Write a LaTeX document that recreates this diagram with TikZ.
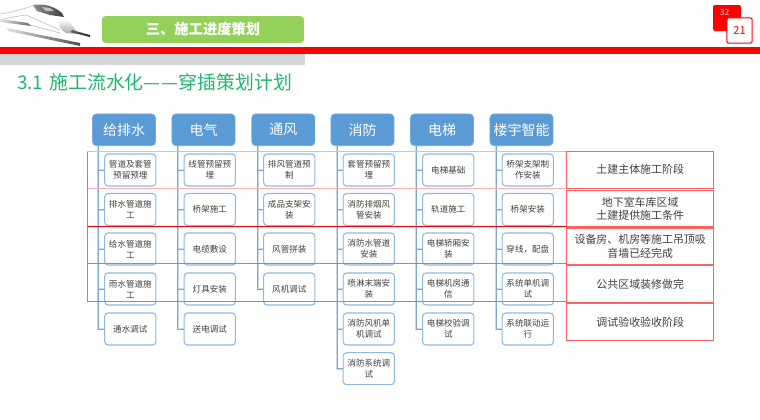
\documentclass[tikz,border=0pt]{standalone}
\usepackage{fontspec}
\setmainfont{Noto Sans CJK SC}
\usetikzlibrary{calc}
\definecolor{hdr}{HTML}{5B9BD5}
\definecolor{spine}{HTML}{7FA8D0}
\definecolor{spinepale}{HTML}{C5D8EC}
\definecolor{cborder}{HTML}{8DB9E4}
\definecolor{txt}{HTML}{404040}
\definecolor{titleg}{HTML}{1FB86E}
\definecolor{barg}{HTML}{94D15A}
\definecolor{pbred}{HTML}{FF0000}
\definecolor{bandpale}{HTML}{FFB0B0}
\definecolor{bandmid}{HTML}{FF6060}
\definecolor{bandstrong}{HTML}{F00000}
\tikzset{
 x=0.75pt,y=-0.75pt,
 hdrbox/.style={draw=hdr!85!white,line width=0.5pt,fill=hdr,rounded corners=3pt,minimum width=47.3pt,minimum height=23.8pt,inner sep=0pt,text=white,font=\fontsize{10.5pt}{12pt}\selectfont},
 childbox/.style={draw=cborder,line width=0.8pt,fill=white,rounded corners=2.5pt,minimum width=38.4pt,minimum height=24pt,inner sep=0pt,align=center,text=txt,font=\fontsize{6.4pt}{8.2pt}\selectfont},
 stagebox/.style={draw=#1,line width=0.8pt,fill=white,minimum width=110.2pt,minimum height=27.6pt,inner sep=0pt,align=center,text=txt,font=\fontsize{8.2pt}{10.2pt}\selectfont},
 spineline/.style={draw=spinepale,line width=1.5pt},
 spinethin/.style={draw=spine,line width=0.55pt},
}
\newcommand{\col}[3]{% name, header centre x, header text
 \node[hdrbox] (#1) at (#2,129.8) {#3};}
\newcommand{\kid}[3]{% name, position, text
 \node[childbox] (#1) at (#2) {#3};}
\begin{document}
\begin{tikzpicture}
\useasboundingbox (0,0) rectangle (760,419);
\fill[white] (0,0) rectangle (760,419);
% train
\fill[white] (0,14) .. controls (15,12) and (25,8) .. (36,5) .. controls (50,4) and (60,10) .. (68,20) .. controls (74,25) and (78,30) .. (78,34) -- (66,33) -- (30,25) -- (0,21) -- cycle;
\draw[black!30,line width=0.35pt] (0,14) .. controls (15,12) and (25,8) .. (36,5);
\draw[black!30,line width=0.35pt] (0,21) -- (30,25) -- (60,33);
\draw[black!30,line width=0.35pt] (0,20) .. controls (10,17) and (20,16) .. (26,15) -- (60,30);
\shade[left color=black!10,right color=black!60] (0,19) -- (28,23) -- (31,26) -- (0,22) -- cycle;
\shade[left color=black!45,right color=black!75] (33,5) .. controls (45,3) and (55,7) .. (62,13) -- (64,17) -- (50,15) -- (37,11) -- cycle;
\fill[black!25] (42,7) -- (50,8) -- (54,11) -- (46,11) -- cycle;
\shade[top color=white,bottom color=black!35] (60,21) .. controls (65,19) and (70,22) .. (72,25) -- (78,34) -- (66,33) .. controls (60,30) and (58,25) .. (60,21) -- cycle;
\shade[left color=black!60,right color=black!85] (72,30) -- (90,35) -- (90,37) -- (70,32) -- cycle;
\shade[left color=black!12,right color=black!70] (7,28) -- (80,43) -- (80,46) -- (8,31) -- cycle;
% title bar
\node[fill=barg,rounded corners=2.5pt,minimum width=151.5pt,minimum height=20pt,inner sep=0pt,text=white,font=\fontsize{10.7pt}{12pt}\bfseries\selectfont] (bar) at (203,29.5) {三、施工进度策划};
\fill[pbred] (0,47) rectangle (760,54);
\fill[black!16] (0,54) rectangle (305,65);
\node[anchor=west,inner sep=0pt,text=titleg,font=\fontsize{14.15pt}{16pt}\selectfont] (title) at (17,82) {3.1\hspace{4.5pt}施工流水化—\hspace{1pt}—穿插策划计划};
% page badge
\node[fill=pbred,rounded corners=1.5pt,minimum width=21pt,minimum height=19.5pt,inner sep=0pt] (p1) at (727,18) {};
\node[anchor=center,text=white!85!red,inner sep=0pt,font=\fontsize{6.3pt}{7pt}\selectfont] (p1t) at (724.5,13) {32};
\node[draw=pbred,fill=white,line width=0.8pt,rounded corners=1.5pt,minimum width=19pt,minimum height=19pt,inner sep=0pt,text=pbred,font=\fontsize{8.3pt}{9pt}\selectfont] (p2) at (739.5,30.5) {21};
% headers
\col{a}{124}{给排水}
\col{b}{203.5}{电气}
\col{c}{283.3}{通风}
\col{d}{362.5}{消防}
\col{e}{442}{电梯}
\col{f}{521.5}{楼宇智能}
% spine tops
\coordinate (sa) at (98.3,145.7);
\coordinate (sb) at (177.7,145.7);
\coordinate (sc) at (257.7,145.7);
\coordinate (sd) at (337,145.7);
\coordinate (se) at (416.3,145.7);
\coordinate (sf) at (496,145.7);
% children
\kid{a1}{130.3,170}{管道及套管\\预留预埋}
\kid{a2}{130.3,209.5}{排水管道施\\工}
\kid{a3}{130.3,249}{给水管道施\\工}
\kid{a4}{130.3,289}{雨水管道施\\工}
\kid{a5}{130.3,329}{通水调试}
\kid{b1}{209.8,170}{线管预留预\\埋}
\kid{b2}{209.8,209.5}{桥架施工}
\kid{b3}{209.8,249}{电缆敷设}
\kid{b4}{209.8,289}{灯具安装}
\kid{b5}{209.8,329}{送电调试}
\kid{c1}{289.3,170}{排风管道预\\制}
\kid{c2}{289.3,209.5}{成品支架安\\装}
\kid{c3}{289.3,249}{风管拼装}
\kid{c4}{289.3,289}{风机调试}
\kid{d1}{368.8,170}{套管预留预\\埋}
\kid{d2}{368.8,209.5}{消防排烟风\\管安装}
\kid{d3}{368.8,249}{消防水管道\\安装}
\kid{d4}{368.8,289}{喷淋末端安\\装}
\kid{d5}{368.8,329}{消防风机单\\机调试}
\kid{d6}{368.8,368.7}{消防系统调\\试}
\kid{e1}{448.3,170}{电梯基础}
\kid{e2}{448.3,209.5}{轨道施工}
\kid{e3}{448.3,249}{电梯轿厢安\\装}
\kid{e4}{448.3,289}{电梯机房通\\信}
\kid{e5}{448.3,329}{电梯校验调\\试}
\kid{f1}{527.8,170}{桥架支架制\\作安装}
\kid{f2}{527.8,209.5}{桥架安装}
\kid{f3}{527.8,249}{穿线，配盘}
\kid{f4}{527.8,289}{系统单机调\\试}
\kid{f5}{527.8,329}{系统联动运\\行}
% connectors
\foreach \s/\k in {a/1,a/2,a/3,a/4,a/5,b/1,b/2,b/3,b/4,b/5,c/1,c/2,c/3,c/4,d/1,d/2,d/3,d/4,d/5,d/6,e/1,e/2,e/3,e/4,e/5,f/1,f/2,f/3,f/4,f/5}{
 \draw[spineline] (s\s) |- (\s\k.west);
}
\foreach \s/\k in {a/1,a/2,a/3,a/4,a/5,b/1,b/2,b/3,b/4,b/5,c/1,c/2,c/3,c/4,d/1,d/2,d/3,d/4,d/5,d/6,e/1,e/2,e/3,e/4,e/5,f/1,f/2,f/3,f/4,f/5}{
 \draw[spinethin] (s\s) |- (\s\k.west);
}
% stage boxes
\node[stagebox=bandmid] (r1) at (640.2,169.8) {土建主体施工阶段};
\node[stagebox=bandmid] (r2) at (640.2,208.6) {地下室车库区域\\土建提供施工条件};
\node[stagebox=bandmid] (r3) at (640.2,246.5) {设备房、机房等施工吊顶吸\\音墙已经完成};
\node[stagebox=bandmid] (r4) at (640.2,284) {公共区域装修做完};
\node[stagebox=bandmid] (r5) at (640.2,322) {调试验收验收阶段};
% bands
\coordinate (l1) at (87.3,151.5);
\coordinate (l2) at (87.3,188.7);
\coordinate (l3) at (87.3,226.5);
\coordinate (l4) at (87.3,263.5);
\coordinate (l5) at (87.3,301.5);
\draw[draw=bandpale,line width=0.8pt] (l1) -- (l1 -| r1.west);
\draw[draw=bandpale,line width=0.8pt] (l2) -- (l2 -| r1.west);
\draw[draw=bandstrong,line width=0.7pt] (l3) -- (l3 -| r1.west);
\draw[draw=bandmid,line width=0.8pt] (l4) -- (l4 -| r1.west);
\draw[draw=bandmid,line width=0.8pt] (l5) -- (l5 -| r1.west);
\draw[draw=bandmid,line width=0.8pt] (l1) -- (l5);
\end{tikzpicture}
\end{document}
